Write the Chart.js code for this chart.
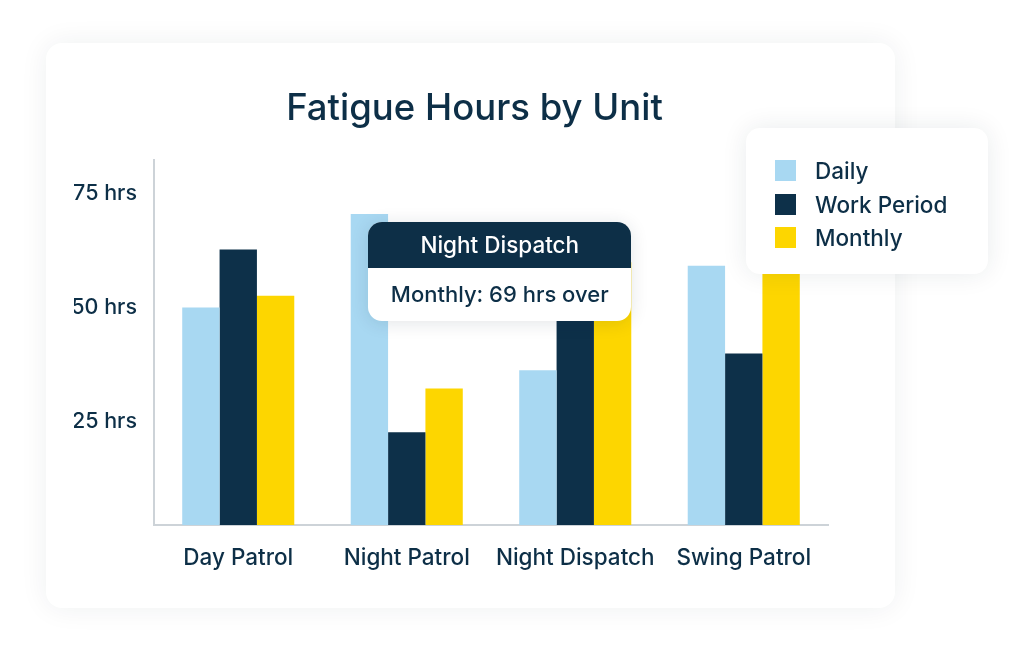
<!DOCTYPE html>
<html>
<head>
<meta charset="utf-8">
<script src="https://cdn.jsdelivr.net/npm/chart.js@4"></script>
<style>
  html, body { margin: 0; padding: 0; background: #fff; }
  body { width: 1024px; height: 657px; position: relative; overflow: hidden; font-family: Inter, "Noto Sans", sans-serif; }
  .card {
    position: absolute; left: 46px; top: 43px; width: 849px; height: 565px;
    background: #fff; border-radius: 16px;
    box-shadow: 0 0 28px rgba(20, 40, 60, 0.07);
  }
  .card canvas { position: absolute; left: 0; top: 0; }
  .legend {
    position: absolute; left: 746px; top: 128px; width: 242px; height: 146px;
    background: #fff; border-radius: 14px;
    box-shadow: 0 0 26px rgba(20, 40, 60, 0.09);
    box-sizing: border-box; padding: 26px 0 0 29px;
  }
  .legend div { display: flex; align-items: center; height: 33.5px; color: #0d2f47; font-size: 22.5px; font-weight: 500; }
  .legend span { display: inline-block; width: 21px; height: 21px; margin-right: 19px; }
  .tip {
    position: absolute; width: 263px; border-radius: 14px; overflow: hidden; background: #fff;
    box-shadow: 0 2px 18px rgba(20, 40, 60, 0.12); display: none; font-weight: 500;
  }
  .tip .head { background: #0d2f47; color: #fff; height: 46px; line-height: 46px; text-align: center; font-size: 22.5px; }
  .tip .body { color: #0d2f47; height: 53px; line-height: 53px; text-align: center; font-size: 22px; }
</style>
</head>
<body>
<div class="card"><canvas id="myChart" width="849" height="565"></canvas></div>
<div class="legend" id="legend"></div>
<div class="tip" id="tip"><div class="head"></div><div class="body"></div></div>
<script>
const units = ['Day Patrol', 'Night Patrol', 'Night Dispatch', 'Swing Patrol'];
const seriesNames = ['Daily', 'Work Period', 'Monthly'];
const daily = [50, 70.6, 36.2, 59.2];
const workPeriod = [62.8, 22.6, 56, 39.9];
const monthly = [52.6, 32.2, 60, 62];
const yTicks = [25, 50, 75];
const seriesColors = ['#a8d8f2', '#0d3049', '#fdd600'];

// tooltip that is shown in the picture
const tipUnit = 'Night Dispatch';
const tipSeries = 'Monthly';
const tipHoursOver = 69;

const navy = '#0d2f47';
const font = 'Inter, "Noto Sans", sans-serif';

// legend card
const legendEl = document.getElementById('legend');
seriesNames.forEach(function (name, i) {
    const row = document.createElement('div');
    row.innerHTML = '<span style="background:' + seriesColors[i] + '"></span>' + name;
    legendEl.appendChild(row);
});

function externalTip(context) {
    const tip = document.getElementById('tip');
    const t = context.tooltip;
    if (t.opacity === 0 || !t.dataPoints || !t.dataPoints.length) { tip.style.display = 'none'; return; }
    const p = t.dataPoints[0];
    const chart = context.chart;
    const el = p.element;
    tip.querySelector('.head').textContent = p.label;
    tip.querySelector('.body').textContent = p.dataset.label + ': ' + tipHoursOver + ' hrs over';
    const rect = chart.canvas.getBoundingClientRect();
    tip.style.display = 'block';
    tip.style.left = (rect.left + el.x + el.width / 2 - 263) + 'px';
    tip.style.top = (rect.top + chart.chartArea.top + 62) + 'px';
}

const ctx = document.getElementById('myChart').getContext('2d');
const datasets = [daily, workPeriod, monthly].map(function (values, i) {
    return {
        label: seriesNames[i],
        data: values,
        backgroundColor: seriesColors[i],
        borderWidth: 0,
        categoryPercentage: 0.665,
        barPercentage: 1
    };
});

const myChart = new Chart(ctx, {
    type: 'bar',
    data: { labels: units, datasets: datasets },
    options: {
        responsive: false,
        animation: false,
        layout: { padding: { left: 28, right: 20, top: 44, bottom: 16 } },
        plugins: {
            legend: { display: false },
            title: {
                display: true,
                text: 'Fatigue Hours by Unit',
                color: navy,
                font: { family: font, size: 36.5, weight: '500' },
                padding: { top: 0, bottom: 29 }
            },
            tooltip: { enabled: false, external: externalTip }
        },
        scales: {
            x: {
                grid: { display: false, drawTicks: false },
                border: { color: '#cdd3d8', width: 2 },
                ticks: { color: navy, padding: 20, font: { family: font, size: 22.5, weight: '500' } }
            },
            y: {
                min: 2.2,
                max: 82.5,
                grid: { display: false, drawTicks: false },
                border: { color: '#cdd3d8', width: 2 },
                afterBuildTicks: function (scale) {
                    scale.ticks = yTicks.map(function (v) { return { value: v }; });
                },
                afterFit: function (scale) { scale.width = 80; },
                ticks: {
                    color: navy,
                    padding: 17,
                    font: { family: font, size: 21.5, weight: '500' },
                    callback: function (v) { return v + ' hrs'; }
                }
            },
            // empty right axis, only keeps space so the title stays centred on the card
            yRight: {
                position: 'right',
                grid: { display: false, drawTicks: false },
                border: { display: false },
                ticks: { display: false },
                afterFit: function (scale) { scale.width = 47; }
            }
        }
    }
});

const di = seriesNames.indexOf(tipSeries);
const ui = units.indexOf(tipUnit);
const bar = myChart.getDatasetMeta(di).data[ui];
myChart.tooltip.setActiveElements([{ datasetIndex: di, index: ui }], { x: bar.x, y: bar.y });
myChart.update();
</script>
</body>
</html>
